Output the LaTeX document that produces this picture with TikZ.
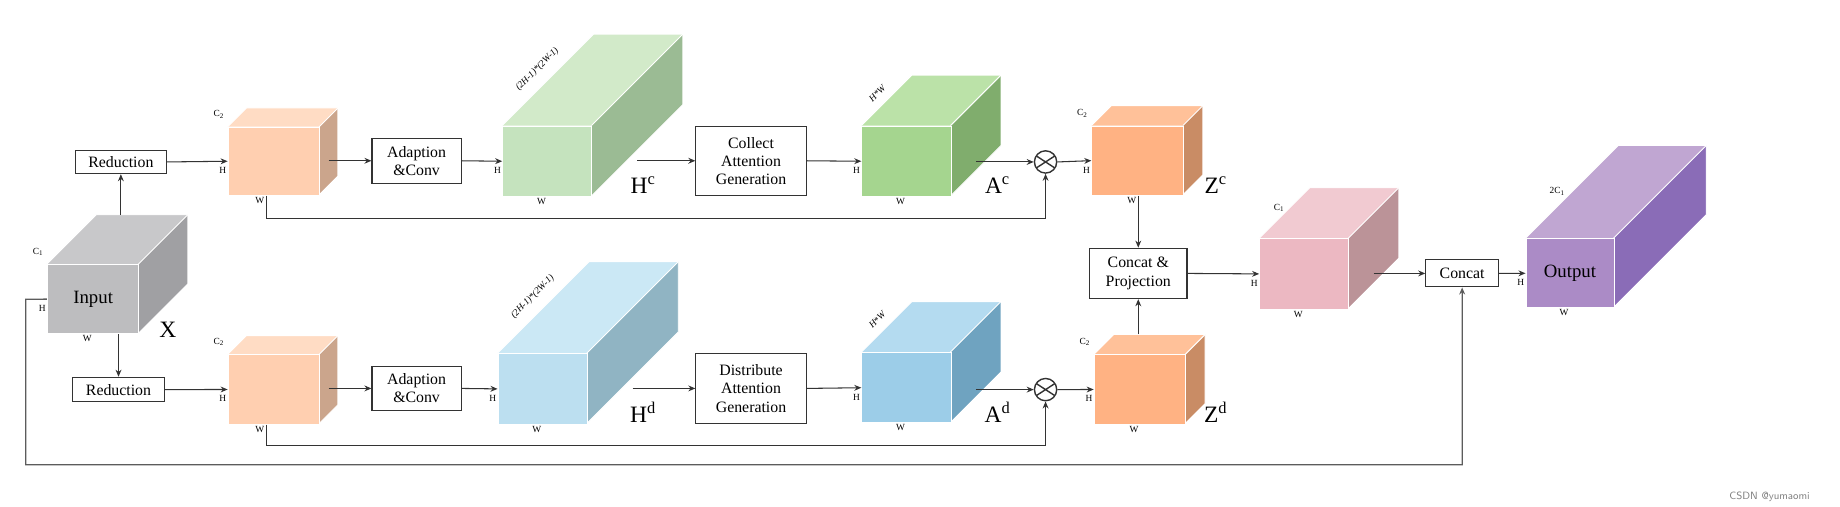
\documentclass[tikz,border=0pt]{standalone}
\usepackage{fontspec}
\setmainfont{Liberation Serif}
\usetikzlibrary{arrows.meta}
\definecolor{ln}{HTML}{333333}
\definecolor{iF}{HTML}{BDBDBF}\definecolor{iT}{HTML}{C8C8CA}\definecolor{iS}{HTML}{A0A0A3}
\definecolor{pF}{HTML}{FFCFB0}\definecolor{pT}{HTML}{FFDCC4}\definecolor{pS}{HTML}{CBA58C}
\definecolor{gF}{HTML}{C5E3BE}\definecolor{gT}{HTML}{D2EAC9}\definecolor{gS}{HTML}{9BBB94}
\definecolor{aF}{HTML}{A5D58F}\definecolor{aT}{HTML}{BBE2A8}\definecolor{aS}{HTML}{80AD6D}
\definecolor{zF}{HTML}{FFB283}\definecolor{zT}{HTML}{FFC199}\definecolor{zS}{HTML}{C98C65}
\definecolor{bF}{HTML}{BCDFF0}\definecolor{bT}{HTML}{CBE8F5}\definecolor{bS}{HTML}{90B4C3}
\definecolor{dF}{HTML}{9CCDE8}\definecolor{dT}{HTML}{B4DBF0}\definecolor{dS}{HTML}{6FA3C0}
\definecolor{kF}{HTML}{ECB8C2}\definecolor{kT}{HTML}{F1CAD1}\definecolor{kS}{HTML}{BB9398}
\definecolor{oF}{HTML}{AB8BC6}\definecolor{oT}{HTML}{C0A6D2}\definecolor{oS}{HTML}{8A6CB7}
\newcommand\cuboid[9]{%
  \fill[#8] (#2,#3) -- ++(#6,-#6) -- ++(#4,0) -- ++(-#6,#6) -- cycle;
  \fill[#9] (#2+#4,#3) -- ++(#6,-#6) -- ++(0,#5) -- ++(-#6,#6) -- cycle;
  \draw[white,line width=0.8pt] (#2,#3) -- ++(#6,-#6) -- ++(#4,0) -- ++(0,#5) -- ++(-#6,#6);
  \draw[white,line width=0.8pt] (#2+#4,#3) -- ++(#6,-#6);
  \node[fill=#7,draw=white,line width=0.8pt,minimum width=#4pt,minimum height=#5pt,inner sep=0pt,anchor=north west] (#1) at (#2,#3) {};
  \coordinate (#1-s) at (#2+#4+#6/2,#3+#5/2-#6/2);
  \coordinate (#1-t) at (#2+#4/2,#3-#6);
  \coordinate (#1-c) at (#2-2,#3-6);
}
\tikzset{
  box/.style={draw=ln,line width=0.9pt,fill=white,inner sep=2pt,align=center,font=\fontsize{13.5}{15.5}\selectfont},
  arr/.style={draw=ln,line width=0.9pt,-{Stealth[length=6pt,width=5pt]}},
  sk/.style={draw=ln!80,line width=1.1pt},
  sm/.style={font=\fontsize{8}{9}\selectfont,inner sep=1pt},
  big/.style={font=\fontsize{20}{22}\selectfont,inner sep=0pt},
  rl/.style={font=\itshape\fontsize{8}{9}\selectfont,rotate=45,inner sep=0.5pt,anchor=south},
  otim/.style={circle,draw=ln,line width=1.2pt,minimum size=19pt,inner sep=0pt,
    path picture={\draw[ln,line width=1.2pt] ([shift={(-2pt,-2pt)}]path picture bounding box.north west)--([shift={(2pt,2pt)}]path picture bounding box.south east)
      ([shift={(2pt,-2pt)}]path picture bounding box.north east)--([shift={(-2pt,2pt)}]path picture bounding box.south west);}},
}
\begin{document}
\begin{tikzpicture}[x=1pt,y=-1pt]
\useasboundingbox (0,0) rectangle (1568,432);
\cuboid{inp}{40}{225}{78}{59}{42}{iF}{iT}{iS}
\cuboid{c2T}{194}{108}{78}{58}{16}{pF}{pT}{pS}
\cuboid{c2B}{194}{302}{78}{59}{16}{pF}{pT}{pS}
\cuboid{hc}{428}{107}{76}{60}{78}{gF}{gT}{gS}
\cuboid{hd}{424}{301}{76}{60}{78}{bF}{bT}{bS}
\cuboid{ac}{734}{107}{76}{60}{43}{aF}{aT}{aS}
\cuboid{ad}{734}{300}{76}{60}{43}{dF}{dT}{dS}
\cuboid{zc}{930}{107}{78}{59}{17}{zF}{zT}{zS}
\cuboid{zd}{932}{302}{78}{59}{17}{zF}{zT}{zS}
\cuboid{pk}{1073}{203}{76}{60}{43}{kF}{kT}{kS}
\cuboid{out}{1300}{203}{75}{59}{79}{oF}{oT}{oS}
\node[font=\fontsize{16}{18}\selectfont] (tin) at (inp) {Input};
\node[font=\fontsize{16}{18}\selectfont] (tout) at (out) {Output};
\node[big] (lx) at (143,281) {X};
\node[big] (lhc) at (548,158) {H\textsuperscript{c}};
\node[big] (lhd) at (548,351) {H\textsuperscript{d}};
\node[big] (lac) at (850,158) {A\textsuperscript{c}};
\node[big] (lad) at (850,351) {A\textsuperscript{d}};
\node[big] (lzc) at (1036,158) {Z\textsuperscript{c}};
\node[big] (lzd) at (1036,351) {Z\textsuperscript{d}};
\foreach \n/\c in {inp/C\textsubscript{1},c2T/C\textsubscript{2},c2B/C\textsubscript{2},zc/C\textsubscript{2},zd/C\textsubscript{2}}{
  \node[sm,anchor=south east] (\n-cl) at (\n-c) {\c};}
\node[sm] (pk-cl) at (1090,177) {C\textsubscript{1}};
\node[sm] (out-cl) at (1327,163) {2C\textsubscript{1}};
\foreach \n in {inp,hc,hd,ac,ad,zc,zd,pk,out}{
  \node[sm,anchor=north] (\n-w) at ([xshift=-5pt]\n.south) {W};}
\foreach \n in {c2T,c2B}{
  \node[sm,anchor=north east] (\n-w) at ([xshift=-7pt]\n.south) {W};}
\foreach \n in {inp,c2T,c2B,hc,hd,ac,ad,zc,zd,pk,out}{
  \node[sm,anchor=east] (\n-h) at ([yshift=-8pt]\n.west) {H};}
\node[rl] (hcr) at (461,62) {(2H-1)*(2W-1)};
\node[rl] (hdr) at (457,256) {(2H-1)*(2W-1)};
\node[rl] (acr) at (750,82) {H*W};
\node[rl] (adr) at (750,275) {H*W};
\node[box,minimum width=78pt,minimum height=20pt] (redT) at (103,138) {Reduction};
\node[box,minimum width=78pt,minimum height=21pt] (redB) at (101,332) {Reduction};
\node[box,minimum width=76pt,minimum height=38pt] (adT) at (355,137) {Adaption\\\&Conv};
\node[box,minimum width=76pt,minimum height=38pt] (adB) at (355,331) {Adaption\\\&Conv};
\node[box,minimum width=94pt,minimum height=59pt] (colT) at (640,137) {Collect\\Attention\\Generation};
\node[box,minimum width=94pt,minimum height=59pt] (colB) at (640,331) {Distribute\\Attention\\Generation};
\node[box,minimum width=83pt,minimum height=43pt] (cp) at (970,233) {Concat \&\\Projection};
\node[box,minimum width=62pt,minimum height=23pt] (cat) at (1246,233) {Concat};
\node[otim] (otT) at (891,138) {};
\node[otim] (otB) at (891,332) {};
\node[font=\sffamily\fontsize{9}{10}\selectfont,text=gray] (wm) at (1508,423) {CSDN @yumaomi};
\draw[arr] (redT.south |- inp-t) -- (redT.south);
\draw[arr] (redB.north |- inp.south) -- (redB.north);
\foreach \r in {T,B}{
  \draw[arr] (red\r.east) -- (c2\r.west);
  \draw[arr] (ad\r.west -| c2\r-s) -- (ad\r.west);
}
\draw[arr] (adT.east) -- (hc.west);
\draw[arr] (adB.east) -- (hd.west);
\draw[arr] (colT.west -| hc-s) -- (colT.west);
\draw[arr] (colB.west -| hd-s) -- (colB.west);
\draw[arr] (colT.east) -- (ac.west);
\draw[arr] (colB.east) -- (ad.west);
\draw[arr] (otT.west -| ac-s) -- (otT.west);
\draw[arr] (otB.west -| ad-s) -- (otB.west);
\draw[arr] (otT.east) -- (zc.west);
\draw[arr] (otB.east) -- (zd.west);
\coordinate (skT) at (0,186);
\coordinate (skB) at (0,380);
\draw[arr] ([xshift=-6pt]c2T.south) -- ([xshift=-6pt]c2T.south |- skT) -| (otT.south);
\draw[arr] ([xshift=-6pt]c2B.south) -- ([xshift=-6pt]c2B.south |- skB) -| (otB.south);
\draw[arr] (zc.south -| cp.north) -- (cp.north);
\draw[arr] (cp.south |- zd-t) -- (cp.south);
\draw[arr] (cp.east) -- (pk.west);
\draw[arr] (cat.west -| pk-s) -- (cat.west);
\draw[arr] (cat.east) -- (out.west);
\coordinate (bl1) at (22,255);
\coordinate (bl2) at (22,396);
\draw[sk,-{Stealth[length=6pt,width=5pt]}] (inp.west) -- (bl1) -- (bl2) -| (cat.south);
\end{tikzpicture}
\end{document}
